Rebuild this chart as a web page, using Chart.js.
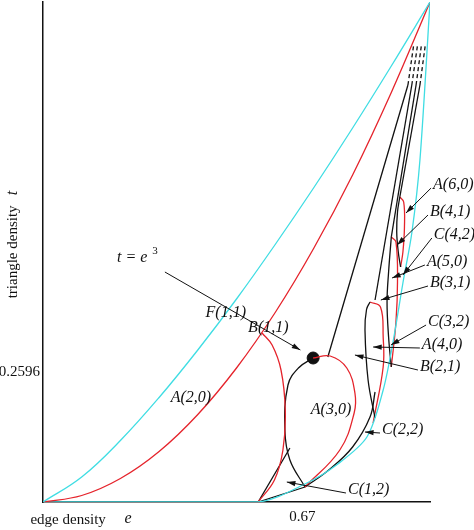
<!DOCTYPE html>
<html><head><meta charset="utf-8">
<script src="https://cdn.jsdelivr.net/npm/chart.js@4"></script>
<style>body{margin:0;background:#fff;overflow:hidden}#wrap{width:474px;height:540px;margin-top:-10px}</style>
</head><body><div id="wrap"><canvas id="c"></canvas></div>
<script>
const CYAN = '#3fdde3', RED = '#e5232b', BLACK = '#111';

// upper bound curve
const upperE = [0, 0.1, 0.2, 0.3, 0.4, 0.5, 0.6, 0.7, 0.8, 0.9, 1];
const upperT = [0, 0.05, 0.123, 0.209, 0.304, 0.406, 0.515, 0.629, 0.748, 0.872, 1];
// t = e^3
const cubeT = [0, 0.013, 0.047, 0.101, 0.175, 0.268, 0.379, 0.508, 0.654, 0.819, 1];
// lower bound
const lowerE = [0, 0.556, 0.682, 0.76, 0.837, 0.879, 0.904, 0.930, 0.953, 0.974, 1];
const lowerT = [0, 0, 0.038, 0.075, 0.13, 0.224, 0.318, 0.438, 0.538, 0.684, 1];
// red lobe from F(1,1)
const fLobeE = [0.566, 0.592, 0.615, 0.626, 0.620, 0.598, 0.556];
const fLobeT = [0.338, 0.314, 0.264, 0.184, 0.104, 0.044, 0];
// A(3,0) region
const a30RedE = [0.698, 0.742, 0.785, 0.806, 0.804, 0.767, 0.677];
const a30RedT = [0.288, 0.292, 0.268, 0.218, 0.178, 0.104, 0.03];
const a30BlkE = [0.698, 0.660, 0.633, 0.625, 0.638, 0.677];
const a30BlkT = [0.288, 0.268, 0.234, 0.144, 0.084, 0.03];
const spurE = [0.556, 0.638];
const spurT = [0, 0.108];
const c12E = [0.556, 0.677];
const c12T = [0, 0.03];
const c22E = [0.677, 0.74, 0.80, 0.845, 0.858];
const c22T = [0.03, 0.065, 0.11, 0.17, 0.22];
// lobe B(2,1)/A(4,0)
const lobe1BlkE = [0.858, 0.840, 0.832, 0.836, 0.845];
const lobe1BlkT = [0.168, 0.244, 0.344, 0.385, 0.40];
const lobe1RedE = [0.845, 0.872, 0.879, 0.879, 0.853];
const lobe1RedT = [0.40, 0.39, 0.33, 0.27, 0.158];
// lobe B(3,1)/C(3,2)
const lobe2BlkE = [0.90, 0.893, 0.889, 0.893, 0.9];
const lobe2BlkT = [0.53, 0.46, 0.40, 0.33, 0.27];
const lobe2RedE = [0.90, 0.912, 0.916, 0.912, 0.9];
const lobe2RedT = [0.53, 0.52, 0.44, 0.36, 0.27];
// lobe A(6,0)/B(4,1)
const lobe3BlkE = [0.922, 0.916, 0.914, 0.918, 0.924];
const lobe3BlkT = [0.61, 0.58, 0.54, 0.50, 0.47];
const lobe3RedE = [0.922, 0.932, 0.934, 0.930, 0.924];
const lobe3RedT = [0.61, 0.60, 0.55, 0.50, 0.47];
// straight branches to the top
const branchFromE = [0.736, 0.858, 0.90, 0.922];
const branchFromT = [0.29, 0.404, 0.53, 0.61];
const branchToE = [0.943, 0.953, 0.964, 0.974];
const branchToT = [0.834, 0.834, 0.834, 0.834];
const dashToE = [0.958, 0.968, 0.978, 0.988];
const dashToT = [0.915, 0.915, 0.915, 0.915];
const dotE = [0.698], dotT = [0.288];

// labels: text, anchor e, anchor t, arrow target e, arrow target t (null = no arrow)
const labelText = ['A(6,0)', 'B(4,1)', 'C(4,2)', 'A(5,0)', 'B(3,1)', 'C(3,2)', 'A(4,0)', 'B(2,1)', 'C(2,2)', 'C(1,2)', 'F(1,1)', 'A(2,0)', 'B(1,1)', 'A(3,0)'];
const labelE = [1.008, 1.0, 1.01, 0.992, 1.0, 0.995, 0.979, 0.974, 0.876, 0.788, 0.42, 0.33, 0.53, 0.692];
const labelT = [0.634, 0.58, 0.534, 0.48, 0.438, 0.36, 0.314, 0.27, 0.144, 0.024, 0.378, 0.208, 0.348, 0.184];
const arrowE = [0.938, 0.915, 0.930, 0.902, 0.873, 0.899, 0.853, 0.806, 0.832, 0.630, null, null, null, null];
const arrowT = [0.578, 0.514, 0.454, 0.448, 0.404, 0.314, 0.31, 0.294, 0.14, 0.04, null, null, null, null];

const xTicks = [0.67];
const yTicks = [0.2596];

function pts(xs, ys) { return xs.map((x, i) => ({x: x, y: ys[i]})); }
function line(xs, ys, color, tension) {
  return {data: pts(xs, ys), borderColor: color, borderWidth: 1.3, pointRadius: 0, showLine: true, tension: tension === undefined ? 0.4 : tension, fill: false};
}

const datasets = [
  line(upperE, upperT, CYAN),
  line(upperE, cubeT, RED),
  line(lowerE, lowerT, CYAN, 0.3),
  line(fLobeE, fLobeT, RED),
  line(a30RedE, a30RedT, RED),
  line(a30BlkE, a30BlkT, BLACK),
  line(spurE, spurT, BLACK, 0),
  line(c12E, c12T, BLACK, 0),
  line(c22E, c22T, BLACK),
  line(lobe1BlkE, lobe1BlkT, BLACK),
  line(lobe1RedE, lobe1RedT, RED),
  line(lobe2BlkE, lobe2BlkT, BLACK),
  line(lobe2RedE, lobe2RedT, RED),
  line(lobe3BlkE, lobe3BlkT, BLACK),
  line(lobe3RedE, lobe3RedT, RED)
];
branchFromE.forEach((e, i) => {
  datasets.push(line([e, branchToE[i]], [branchFromT[i], branchToT[i]], BLACK, 0));
  const d = line([branchToE[i], dashToE[i]], [branchToT[i], dashToT[i]], BLACK, 0);
  d.borderDash = [4, 3];
  datasets.push(d);
});
datasets.push({data: pts(dotE, dotT), pointRadius: 6, backgroundColor: BLACK, borderColor: BLACK, showLine: false});

const annot = {
  id: 'annot',
  afterDraw(chart) {
    const ctx = chart.ctx, xs = chart.scales.x, ys = chart.scales.y;
    ctx.save();
    ctx.fillStyle = BLACK; ctx.strokeStyle = BLACK; ctx.lineWidth = 1;
    ctx.font = 'italic 16px "Liberation Serif", "DejaVu Serif", serif';
    ctx.textBaseline = 'middle';
    function arrow(x1, y1, x2, y2) {
      ctx.beginPath(); ctx.moveTo(x1, y1); ctx.lineTo(x2, y2); ctx.stroke();
      const a = Math.atan2(y2 - y1, x2 - x1);
      ctx.beginPath(); ctx.moveTo(x2, y2);
      ctx.lineTo(x2 - 9 * Math.cos(a - 0.3), y2 - 9 * Math.sin(a - 0.3));
      ctx.lineTo(x2 - 9 * Math.cos(a + 0.3), y2 - 9 * Math.sin(a + 0.3));
      ctx.closePath(); ctx.fill();
    }
    labelText.forEach((t, i) => {
      const px = xs.getPixelForValue(labelE[i]), py = ys.getPixelForValue(labelT[i]);
      ctx.textAlign = 'left';
      ctx.fillText(t, px, py);
      if (arrowE[i] !== null) {
        arrow(px - 2, py + 3, xs.getPixelForValue(arrowE[i]), ys.getPixelForValue(arrowT[i]));
      }
    });
    // t = e^3 label
    const lx = xs.getPixelForValue(0.238), ly = ys.getPixelForValue(0.488);
    ctx.textAlign = 'center';
    ctx.fillText('t = e', lx - 3, ly);
    ctx.font = '11px "Liberation Serif", serif';
    ctx.fillText('3', lx + 20, ly - 7);
    arrow(xs.getPixelForValue(0.315), ys.getPixelForValue(0.46), xs.getPixelForValue(0.665), ys.getPixelForValue(0.304));
    // axis titles
    ctx.font = '15px "Liberation Serif", serif';
    ctx.fillText('edge density ', 70, 530);
    ctx.font = 'italic 16px "Liberation Serif", serif';
    ctx.fillText('e', 128, 529);
    ctx.translate(13, 260); ctx.rotate(-Math.PI / 2);
    ctx.font = '15px "Liberation Serif", serif';
    ctx.fillText('triangle density ', 0, 0);
    ctx.font = 'italic 16px "Liberation Serif", serif';
    ctx.fillText('t', 57, 0);
    ctx.restore();
  }
};

new Chart(document.getElementById('c'), {
  type: 'scatter',
  data: {datasets: datasets},
  options: {
    responsive: true, maintainAspectRatio: false, animation: false,
    layout: {padding: {top: 2, right: 44, left: 0, bottom: 0}},
    plugins: {legend: {display: false}, tooltip: {enabled: false}},
    scales: {
      x: {
        type: 'linear', min: 0, max: 1,
        afterBuildTicks: s => { s.ticks = xTicks.map(v => ({value: v})); },
        afterFit: s => { s.height = 28; },
        grid: {display: false, drawTicks: false},
        border: {color: BLACK, width: 1.5},
        ticks: {color: BLACK, padding: 6, font: {family: '"Liberation Serif", serif', size: 15}, callback: v => v.toString()}
      },
      y: {
        type: 'linear', min: 0, max: 1,
        afterBuildTicks: s => { s.ticks = yTicks.map(v => ({value: v})); },
        afterFit: s => { s.width = 43; },
        grid: {display: false, drawTicks: false},
        border: {color: BLACK, width: 1.5},
        ticks: {color: BLACK, padding: 3, font: {family: '"Liberation Serif", serif', size: 15}, callback: v => v.toString()}
      }
    }
  },
  plugins: [annot]
});
</script></body></html>
